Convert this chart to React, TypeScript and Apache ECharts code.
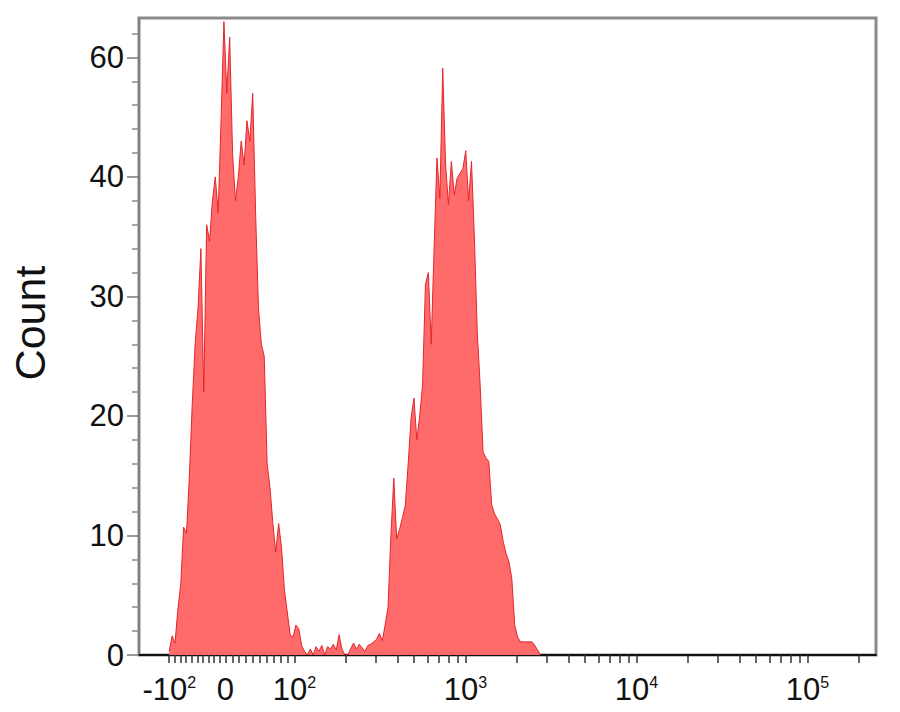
import React, { useEffect, useRef } from "react";
import * as echarts from "echarts";

// ---- data ----
// histogram counts per display channel (256 channels across the biexponential axis)
const FIRST_BIN = 10;
const COUNTS = [
  0.3, 1.6, 1.0, 3.8, 5.9, 10.7, 10.2, 15, 21, 26, // 10-19
  29, 34, 22, 36, 34.6, 38, 40, 37, 44.7, 53, // 20-29
  47, 51.7, 42, 38, 40, 43, 41, 44.7, 43, 47, // 30-39
  37, 29, 26, 25, 16, 14, 11, 8.6, 11, 9, // 40-49
  5.5, 3.6, 1.7, 1.5, 2.5, 2.2, 0.8, 0.3, 0, 0.5, // 50-59
  0, 0.7, 0.3, 0.8, 0, 0.7, 0.5, 0.9, 0.4, 1.7, // 60-69
  0.5, 0, 0, 0.5, 1, 0.5, 0.9, 0.6, 0.3, 0.8, // 70-79
  0.9, 1.1, 1.3, 1.8, 1.2, 2.5, 4.0, 10, 14.8, 9.7, // 80-89
  10.5, 11.5, 12.5, 16, 19.8, 21.5, 18, 20, 22.6, 31, // 90-99
  32, 26, 34, 41.6, 38.2, 49.1, 41, 37.7, 41.3, 38.5, // 100-109
  39.9, 40.3, 40.7, 42.2, 38, 41.3, 34.9, 27, 22.6, 17, // 110-119
  16.5, 16.2, 12.6, 11.8, 11.4, 10.9, 9.5, 8.5, 7.8, 6.4, // 120-129
  2.5, 1.5, 1.1, 1.1, 1.1, 1.1, 1.1, 0.8, 0.4, 0, // 130-139
];

const Y_TICKS = [0, 10, 20, 30, 40, 50];
const Y_LABELS = ["0", "10", "20", "30", "40", "60"];
const Y_MINOR = [2, 4, 6, 8, 12, 14, 16, 18, 22, 24, 26, 28, 32, 34, 36, 38, 42, 44, 46, 48, 52];
const Y_MAX = 53.3;

const X_LABEL_VALUES = [-100, 0, 100, 1000, 10000, 100000];
const X_LABEL_BASE = ["-10", "0", "10", "10", "10", "10"];
const X_LABEL_SUP = ["2", "", "2", "3", "4", "5"];
const X_MINOR_VALUES = [
  -90, -80, -70, -60, -50, -40, -30, -20, -10,
  10, 20, 30, 40, 50, 60, 70, 80, 90,
  200, 300, 400, 500, 600, 700, 800, 900,
  2000, 3000, 4000, 5000, 6000, 7000, 8000, 9000,
  20000, 30000, 40000, 50000, 60000, 70000, 80000, 90000,
  200000,
];

// biexponential-like display transform (value -> channel)
const CHANNELS = 256;
const ZERO_CH = 30;
const NEG_LIN_CH = 19.5; // channels per 100 below zero
const POS_LIN_CH = 24; // channels per 100 above zero
const DECADE_CH = 59.4;

function toChannel(v: number): number {
  if (v >= 0 && v <= 100) return ZERO_CH + (v / 100) * POS_LIN_CH;
  if (v < 0 && v >= -100) return ZERO_CH + (v / 100) * NEG_LIN_CH;
  if (v > 100) return ZERO_CH + POS_LIN_CH + DECADE_CH * Math.log10(v / 100);
  return ZERO_CH - NEG_LIN_CH - DECADE_CH * Math.log10(-v / 100);
}

const FONT = "'Liberation Sans', Arial, Helvetica, sans-serif";

export default function App() {
  const ref = useRef<HTMLDivElement>(null);

  useEffect(() => {
    document.body.style.margin = "0";
    if (!ref.current) return;
    const chart = echarts.init(ref.current, undefined, { renderer: "svg" });

    const seriesData = COUNTS.map((c, i) => [FIRST_BIN + i + 0.5, c]);
    const labelChannels = X_LABEL_VALUES.map(toChannel);
    const tickChannels = [...X_LABEL_VALUES, ...X_MINOR_VALUES].map(toChannel);

    chart.setOption({
      animation: false,
      backgroundColor: "#ffffff",
      grid: {
        left: 133,
        right: 24,
        top: 18,
        bottom: 57,
        show: true,
        borderColor: "#8a8a8a",
        borderWidth: 3,
        backgroundColor: "transparent",
      },
      xAxis: {
        type: "value",
        min: 0,
        max: CHANNELS,
        axisLine: { show: true, lineStyle: { color: "#111", width: 2 } },
        axisTick: {
          show: true,
          length: 8,
          lineStyle: { color: "#333", width: 1.5 },
          customValues: tickChannels,
        },
        axisLabel: {
          customValues: labelChannels,
          margin: 19,
          color: "#111",
          fontFamily: FONT,
          formatter: (val: number) => {
            let idx = 0;
            let best = Infinity;
            labelChannels.forEach((c, i) => {
              const d = Math.abs(c - val);
              if (d < best) {
                best = d;
                idx = i;
              }
            });
            const sup = X_LABEL_SUP[idx];
            return sup ? `{b|${X_LABEL_BASE[idx]}}{s|${sup}}` : `{b|${X_LABEL_BASE[idx]}}`;
          },
          rich: {
            b: { fontSize: 31, fontFamily: FONT, color: "#111", verticalAlign: "top" },
            s: { fontSize: 16, fontFamily: FONT, color: "#111", verticalAlign: "top" },
          },
        },
        splitLine: { show: false },
      },
      yAxis: [
        {
          type: "value",
          min: 0,
          max: Y_MAX,
          name: "Count",
          nameLocation: "middle",
          nameGap: 88,
          nameTextStyle: {
            fontSize: 43,
            fontFamily: FONT,
            color: "#111",
            padding: [0, 0, 0, 27],
          },
          axisLine: { show: true, lineStyle: { color: "#808080", width: 2 } },
          axisTick: {
            show: true,
            length: 12,
            lineStyle: { color: "#777", width: 1.5 },
            customValues: Y_TICKS,
          },
          axisLabel: {
            customValues: Y_TICKS,
            margin: 15,
            fontSize: 31,
            fontFamily: FONT,
            color: "#111",
            formatter: (val: number) => Y_LABELS[Math.round(val / 10)] ?? "",
          },
          splitLine: { show: false },
        },
        {
          type: "value",
          min: 0,
          max: Y_MAX,
          position: "left",
          axisLine: { show: false },
          axisTick: {
            show: true,
            length: 7,
            lineStyle: { color: "#888", width: 1.5 },
            customValues: Y_MINOR,
          },
          axisLabel: { show: false },
          splitLine: { show: false },
        },
      ],
      series: [
        {
          type: "line",
          data: seriesData,
          xAxisIndex: 0,
          yAxisIndex: 0,
          symbol: "none",
          smooth: false,
          lineStyle: { color: "#E3262B", width: 1 },
          areaStyle: { color: "#FF6B6B", opacity: 1 },
          z: 1,
        },
      ],
    });

    return () => chart.dispose();
  }, []);

  return <div ref={ref} style={{ width: 900, height: 712 }} />;
}
